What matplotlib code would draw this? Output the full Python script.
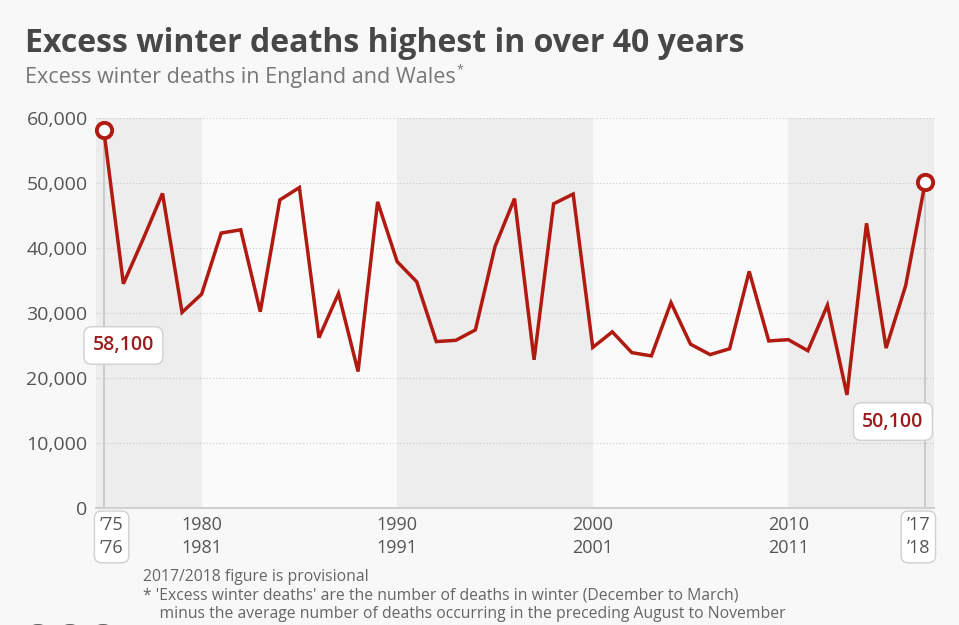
import matplotlib
matplotlib.use("Agg")
import matplotlib.pyplot as plt
from matplotlib.patches import Circle
import numpy as np

# ---- data ----
years = list(range(1975, 2018))
deaths = [58100, 34500, 41300, 48400, 30100, 32900, 42300, 42800, 30200, 47400,
          49300, 26200, 33000, 21000, 47100, 37900, 34800, 25600, 25800, 27400,
          40200, 47600, 22800, 46800, 48300, 24700, 27100, 23900, 23400, 31600,
          25200, 23600, 24500, 36400, 25700, 25900, 24200, 31200, 17400, 43800,
          24600, 34200, 50100]
yticks = [0, 10000, 20000, 30000, 40000, 50000, 60000]
ytick_labels = ["0", "10,000", "20,000", "30,000", "40,000", "50,000", "60,000"]
xticks_mid = [1980, 1990, 2000, 2010]
xtick_mid_labels = ["1980\n1981", "1990\n1991", "2000\n2001", "2010\n2011"]
first_label = "\u201975\n\u201976"
last_label = "\u201917\n\u201918"
bands = [(1970, 1980), (1990, 2000), (2010, 2020)]

title = "Excess winter deaths highest in over 40 years"
subtitle = "Excess winter deaths in England and Wales"
notes = ["2017/2018 figure is provisional",
         "* 'Excess winter deaths' are the number of deaths in winter (December to March)",
         "    minus the average number of deaths occurring in the preceding August to November"]

RED = "#b01a10"
DARKRED = "#9c1c1c"
TXT = "#555555"
BG = "#f8f8f8"

plt.rcParams['font.family'] = ['Open Sans', 'DejaVu Sans']

fig = plt.figure(figsize=(9.59, 6.25), dpi=100)
fig.patch.set_facecolor(BG)
W, H = 959, 625
ax = fig.add_axes([96 / W, 1 - 508 / H, (934 - 96) / W, (508 - 118) / H])
ax.set_facecolor("#fafafa")
ax.set_xlim(1974.6, 2017.45)
ax.set_ylim(0, 60000)

for a, b in bands:
    ax.axvspan(a, b, color="#ededed", zorder=0, lw=0)

ax.set_yticks(yticks)
ax.set_yticklabels(ytick_labels)
ax.yaxis.grid(True, linestyle=(0, (1, 2)), color="#c8c8c8", lw=0.8)
ax.set_axisbelow(True)
ax.tick_params(axis="y", length=0, labelsize=14, labelcolor=TXT, pad=6)
ax.set_xticks(xticks_mid)
ax.set_xticklabels(xtick_mid_labels, linespacing=1.35)
ax.tick_params(axis="x", length=0, labelsize=13, labelcolor=TXT, pad=6)
for s in ["top", "right", "left"]:
    ax.spines[s].set_visible(False)
ax.spines["bottom"].set_color("#d0d0d0")
ax.spines["bottom"].set_linewidth(1.5)

# vertical lines from endpoints
ax.plot([years[0], years[0]], [0, deaths[0]], color="#c4c4c4", lw=1.2, zorder=2)
ax.plot([years[-1], years[-1]], [0, deaths[-1]], color="#c4c4c4", lw=1.2, zorder=2)

ax.plot(years, deaths, color=RED, lw=2.5, zorder=3, solid_joinstyle="miter")
ax.plot([years[0], years[-1]], [deaths[0], deaths[-1]], "o", ms=11,
        mfc="white", mec=RED, mew=2.8, zorder=4, clip_on=False)

bbox = dict(boxstyle="round,pad=0.45,rounding_size=0.4", fc="white", ec="#d0d0d0", lw=1)
ax.text(years[0] + 1.0, 25000, f"{deaths[0]:,}", ha="center", va="center",
        fontsize=14, fontweight="semibold", color=DARKRED, bbox=bbox, zorder=5)
ax.text(years[-1] - 1.65, 13300, f"{deaths[-1]:,}", ha="center", va="center",
        fontsize=14, fontweight="semibold", color=DARKRED, bbox=bbox, zorder=5)

bbox2 = dict(boxstyle="round,pad=0.3,rounding_size=0.4", fc="white", ec="#d0d0d0", lw=1)
ax.text(years[0] + 0.4, -1300, first_label, ha="center", va="top", fontsize=13,
        color=TXT, bbox=bbox2, linespacing=1.35, clip_on=False, zorder=5)
ax.text(years[-1] - 0.35, -1300, last_label, ha="center", va="top", fontsize=13,
        color=TXT, bbox=bbox2, linespacing=1.35, clip_on=False, zorder=5)

fig.text(25 / W, 1 - 44 / H, title, fontsize=23, fontweight="bold", color="#474747",
         ha="left", va="center")
sub = fig.text(25 / W, 1 - 77 / H, subtitle, fontsize=15.5, color="#777777",
               ha="left", va="center")
fig.canvas.draw()
ext = sub.get_window_extent(renderer=fig.canvas.get_renderer())
fig.text(ext.x1 / W + 1 / W, 1 - 70 / H, "*", fontsize=9, color="#777777",
         ha="left", va="center")

for i, n in enumerate(notes):
    fig.text(143 / W, 1 - (577 + 18.5 * i) / H, n, fontsize=11.3, color="#666666",
             ha="left", va="center")

# partially visible licence icons
for cx in [38, 70, 103]:
    c = Circle((cx / W, 1 - 633 / H), 11 / W, transform=fig.transFigure,
               fill=False, ec="#555555", lw=2.5, clip_on=False)
    fig.patches.append(c)

fig.savefig("out.png", dpi=100, facecolor=BG)
